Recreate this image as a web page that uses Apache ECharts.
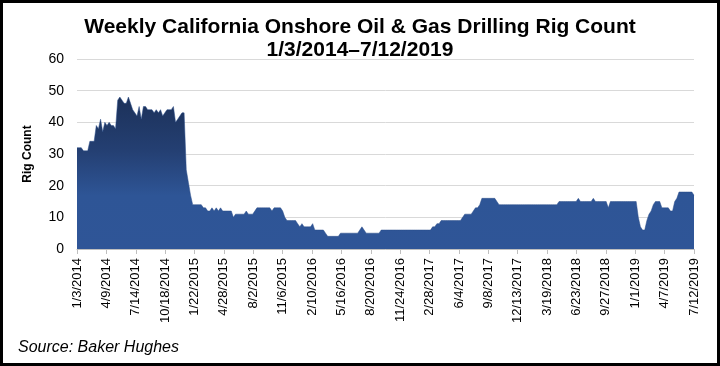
<!DOCTYPE html>
<html>
<head>
<meta charset="utf-8">
<script src="https://cdn.jsdelivr.net/npm/echarts@6/dist/echarts.min.js"></script>
<style>
html,body{margin:0;padding:0;background:#fff;}
#chart{width:720px;height:366px;}
</style>
</head>
<body>
<div id="chart"></div>
<script>
// Weekly rig counts, starting 1/3/2014, one value per week (289 weeks to 7/12/2019)
const startDate = '2014-01-03';
const weeklyCounts = [
  32,32,32,31,31,31,34,34,34,39,
  38,41,37,40,39,40,39,39,38,47,
  48,47,46,46,48,46,44,43,42,45,
  41,45,45,44,44,44,43,44,43,44,
  42,43,44,44,44,45,40,41,42,43,
  43,25,21,17,14,14,14,14,14,13,
  13,12,12,13,12,13,12,13,12,12,
  12,12,12,10,11,11,11,11,11,12,
  11,11,11,12,13,13,13,13,13,13,
  13,12,13,13,13,13,12,10,9,9,
  9,9,9,8,7,8,7,7,7,7,
  8,6,6,6,6,6,5,4,4,4,
  4,4,4,5,5,5,5,5,5,5,
  5,5,6,7,6,5,5,5,5,5,
  5,5,6,6,6,6,6,6,6,6,
  6,6,6,6,6,6,6,6,6,6,
  6,6,6,6,6,6,7,7,8,8,
  9,9,9,9,9,9,9,9,9,9,
  10,11,11,11,11,12,13,13,14,16,
  16,16,16,16,16,16,15,14,14,14,
  14,14,14,14,14,14,14,14,14,14,
  14,14,14,14,14,14,14,14,14,14,
  14,14,14,14,14,15,15,15,15,15,
  15,15,15,15,16,15,15,15,15,15,
  15,16,15,15,15,15,15,15,13,15,
  15,15,15,15,15,15,15,15,15,15,
  15,15,10,7,6,6,9,11,12,14,
  15,15,15,13,13,13,13,12,12,15,
  16,18,18,18,18,18,18,18,17
];
// Axis tick labels (every 96 days from the start date)
const tickLabels = [
  '1/3/2014','4/9/2014','7/14/2014','10/18/2014','1/22/2015','4/28/2015',
  '8/2/2015','11/6/2015','2/10/2016','5/16/2016','8/20/2016','11/24/2016',
  '2/28/2017','6/4/2017','9/8/2017','12/13/2017','3/19/2018','6/23/2018',
  '9/27/2018','1/1/2019','4/7/2019','7/12/2019'
];
const tickStepDays = 96;
const daysPerWeek = 7;

const seriesData = weeklyCounts.map((v, i) => [i * daysPerWeek, v]);

const FONT = '"Liberation Sans", Arial, sans-serif';
const chart = echarts.init(document.getElementById('chart'), null, {renderer: 'canvas'});
chart.setOption({
  animation: false,
  backgroundColor: '#ffffff',
  title: {
    text: 'Weekly California Onshore Oil & Gas Drilling Rig Count\n1/3/2014\u20137/12/2019',
    left: 'center',
    top: 11,
    textStyle: {fontFamily: FONT, fontSize: 21, fontWeight: 'bold', color: '#000', lineHeight: 23}
  },
  grid: {left: 77, right: 26, top: 59, bottom: 117},
  xAxis: {
    type: 'value',
    min: 0,
    max: tickStepDays * (tickLabels.length - 1),
    interval: tickStepDays,
    splitLine: {show: false},
    axisLine: {show: true, lineStyle: {color: '#bfbfbf', width: 1}},
    axisTick: {show: true, length: 5, lineStyle: {color: '#bfbfbf'}},
    axisLabel: {
      rotate: 90,
      margin: 9,
      fontFamily: FONT,
      fontSize: 13,
      color: '#000',
      showMinLabel: true,
      showMaxLabel: true,
      formatter: function (val) {
        const idx = Math.round(val / tickStepDays);
        return tickLabels[idx] || '';
      }
    }
  },
  yAxis: {
    type: 'value',
    min: 0,
    max: 60,
    interval: 10,
    name: 'Rig Count',
    nameLocation: 'middle',
    nameRotate: 90,
    nameGap: 43,
    nameTextStyle: {fontFamily: FONT, fontSize: 12, fontWeight: 'bold', color: '#000'},
    axisLine: {show: false},
    axisTick: {show: false},
    axisLabel: {fontFamily: FONT, fontSize: 14, color: '#000', margin: 13},
    splitLine: {lineStyle: {color: '#d9d9d9', width: 1}}
  },
  series: [{
    type: 'line',
    data: seriesData,
    showSymbol: false,
    smooth: false,
    lineStyle: {width: 0.5, color: '#2a4c88'},
    areaStyle: {
      opacity: 1,
      color: new echarts.graphic.LinearGradient(0, 0, 0, 1, [
        {offset: 0, color: '#1c3159'},
        {offset: 0.35, color: '#243f72'},
        {offset: 0.65, color: '#2e5596'},
        {offset: 1, color: '#2f5597'}
      ])
    }
  }],
  graphic: [
    {
      type: 'text',
      left: 18,
      top: 340,
      style: {text: 'Source: Baker Hughes', font: 'italic 16px ' + FONT, fill: '#000'}
    },
    {
      type: 'rect',
      shape: {x: 1.5, y: 1.5, width: 717, height: 363},
      style: {fill: null, stroke: '#000', lineWidth: 3},
      silent: true
    }
  ]
});
</script>
</body>
</html>
